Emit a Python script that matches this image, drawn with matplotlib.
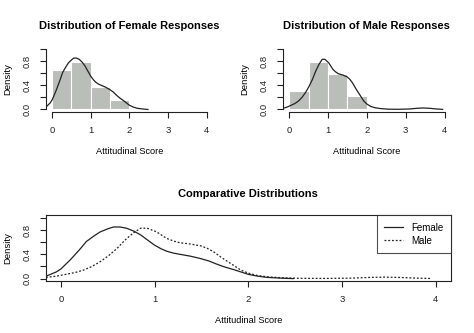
import matplotlib.pyplot as plt
import numpy as np

plt.rcParams['font.family'] = ['Liberation Sans', 'DejaVu Sans']

# histogram densities, bins of width 0.5 starting at 0
bin_edges = [0.0, 0.5, 1.0, 1.5, 2.0, 2.5]
female_hist = [0.65, 0.78, 0.37, 0.16, 0.0]
male_hist = [0.31, 0.78, 0.59, 0.23, 0.03]

# kernel density estimates
female_x = [-0.16, -0.05, 0.0, 0.1, 0.2, 0.27, 0.35, 0.42, 0.5, 0.56, 0.63, 0.7,
            0.78, 0.85, 0.92, 1.0, 1.07, 1.13, 1.2, 1.27, 1.38, 1.49, 1.58, 1.66,
            1.75, 1.84, 1.92, 2.0, 2.1, 2.2, 2.35, 2.48]
female_y = [0.04, 0.11, 0.16, 0.31, 0.48, 0.61, 0.70, 0.77, 0.82, 0.85, 0.85, 0.83,
            0.78, 0.72, 0.64, 0.55, 0.49, 0.45, 0.42, 0.40, 0.37, 0.33, 0.29, 0.24,
            0.19, 0.15, 0.11, 0.07, 0.04, 0.02, 0.008, 0.0]
male_x = [-0.16, -0.05, 0.05, 0.15, 0.24, 0.33, 0.42, 0.51, 0.6, 0.68, 0.77, 0.85,
          0.92, 1.02, 1.13, 1.2, 1.27, 1.38, 1.49, 1.56, 1.63, 1.72, 1.84, 1.92,
          2.0, 2.1, 2.2, 2.35, 2.55, 2.8, 3.1, 3.3, 3.45, 3.6, 3.8, 3.95]
male_y = [0.02, 0.04, 0.07, 0.10, 0.14, 0.20, 0.28, 0.38, 0.50, 0.63, 0.75, 0.83,
          0.83, 0.77, 0.66, 0.62, 0.59, 0.57, 0.54, 0.50, 0.44, 0.34, 0.22, 0.14,
          0.09, 0.05, 0.03, 0.015, 0.005, 0.003, 0.008, 0.02, 0.025, 0.02, 0.008, 0.002]

bar_color = '#b9beb8'
xticks = [0, 1, 2, 3, 4]
yticks = [0.0, 0.2, 0.4, 0.6, 0.8, 1.0]
ylabels = ['0.0', '', '0.4', '', '0.8', '']

fig = plt.figure(figsize=(4.74, 3.33), dpi=100)


def r_axes(ax, boxed):
    ax.set_xlim(-0.16, 4.16)
    ax.set_ylim(-0.04, 1.04)
    ax.set_xticks(xticks)
    ax.set_xticklabels([str(t) for t in xticks])
    ax.set_yticks(yticks)
    ax.set_yticklabels(ylabels, rotation=90, va='center')
    ax.tick_params(direction='out', length=4, width=0.8, labelsize=6.8,
                   colors='#222222', pad=6)
    for s in ax.spines.values():
        s.set_linewidth(0.8)
        s.set_color('#222222')
    if not boxed:
        ax.spines['top'].set_visible(False)
        ax.spines['right'].set_visible(False)
        ax.spines['bottom'].set_bounds(0, 4)
        ax.spines['left'].set_bounds(0, 1)
    ax.set_ylabel('Density', fontsize=6.8, labelpad=8)
    ax.set_xlabel('Attitudinal Score', fontsize=6.6, labelpad=9)


def hist_panel(rect, heights, kx, ky, title):
    ax = fig.add_axes(rect)
    ax.bar(bin_edges[:-1], heights, width=0.5, align='edge', color=bar_color,
           edgecolor='white', linewidth=0.8)
    ax.plot(kx, ky, color='#222222', lw=0.9)
    r_axes(ax, boxed=False)
    ax.set_title(title, fontsize=8, fontweight='bold', pad=13)
    return ax


hist_panel([0.097, 0.664, 0.352, 0.196], female_hist, female_x, female_y,
           'Distribution of Female Responses')
hist_panel([0.597, 0.664, 0.354, 0.196], male_hist, male_x, male_y,
           'Distribution of Male Responses')

ax = fig.add_axes([0.097, 0.156, 0.854, 0.197])
ax.plot(female_x, female_y, color='#222222', lw=0.9, label='Female')
ax.plot(male_x, male_y, color='#222222', lw=0.9, ls=(0, (1.5, 1.5)), label='Male')
r_axes(ax, boxed=True)
ax.set_title('Comparative Distributions', fontsize=8, fontweight='bold', pad=13)
leg = ax.legend(loc='upper right', fontsize=7, frameon=True, fancybox=False,
                borderaxespad=0, handlelength=2.0, handletextpad=0.8,
                borderpad=0.75, labelspacing=0.3)
leg.get_frame().set_edgecolor('#222222')
leg.get_frame().set_linewidth(0.8)

fig.savefig('out.png', dpi=100)
